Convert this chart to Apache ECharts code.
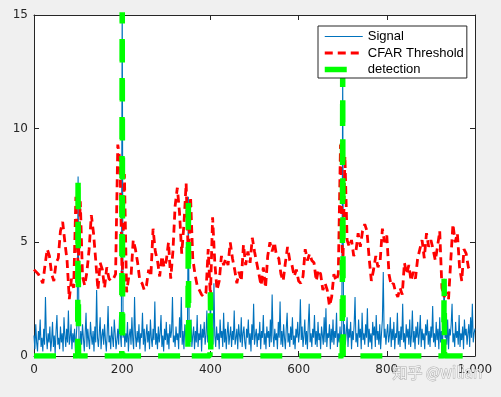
<!DOCTYPE html>
<html>
<head>
<meta charset="utf-8">
<script src="https://cdn.jsdelivr.net/npm/echarts@6/dist/echarts.min.js"></script>
<style>
html,body{margin:0;padding:0;background:#f0f0f0;}
#c{width:501px;height:397px;}
</style>
</head>
<body>
<div id="c"></div>
<script>
// ---- data ----
const xTicks = [0, 200, 400, 600, 800, 1000];
const yTicks = [0, 5, 10, 15];
const seriesNames = ['Signal', 'CFAR Threshold', 'detection'];

// Signal, sampled every 2 units from x = 0 to 1000
const sigStep = 2;
const sigVals = [
 0.9,0.3,1.4,0.6,0.2,1.1,0.7,1.6,0.4,0.8,0.2,1.2,0.5,2.6,0.9,0.3,1.0,0.6,1.3,0.2,
 0.7,1.5,0.4,0.9,0.1,1.1,1.8,0.5,0.8,0.3,1.3,0.6,1.0,0.2,1.7,0.9,0.4,1.2,0.6,2.0,
 0.5,0.8,1.4,0.3,1.0,0.6,1.2,0.2,0.9,1.6,7.9,0.7,0.3,1.1,0.5,1.4,0.8,0.2,1.0,1.9,
 0.4,1.2,0.7,0.3,1.5,0.9,0.5,1.1,0.2,1.3,0.6,2.9,0.8,0.4,1.0,1.7,0.3,0.9,1.2,0.5,
 1.4,0.7,0.2,1.0,2.2,0.6,0.9,0.3,1.3,0.8,0.4,1.6,1.0,0.3,0.7,1.2,0.5,1.8,0.9,0.4,
 16.0,0.8,1.3,0.4,1.0,0.6,1.5,0.2,0.9,1.2,0.5,1.7,0.7,0.3,2.6,0.9,0.4,1.1,0.6,1.4,
 0.3,1.0,0.8,1.9,0.5,1.2,0.2,0.9,1.4,0.6,1.1,0.3,1.6,0.8,0.4,1.2,0.7,2.4,0.5,1.0,
 0.3,1.3,0.6,1.0,1.8,0.4,0.9,0.2,1.2,0.7,1.5,0.5,1.0,0.3,1.4,0.8,1.1,2.6,0.6,0.9,
 0.4,1.3,0.7,1.0,0.3,1.7,0.8,2.6,0.5,1.1,0.3,1.4,0.9,0.6,1.2,7.0,0.5,1.0,1.6,0.4,
 0.9,1.3,0.3,1.1,0.6,1.8,0.4,1.0,0.7,1.4,0.2,1.2,0.8,1.5,0.5,0.9,2.0,0.6,1.1,0.4,
 2.8,0.7,1.2,0.5,3.2,0.9,0.4,1.3,0.7,1.0,0.3,1.6,0.8,1.1,0.4,1.9,0.6,1.2,0.3,1.0,
 1.5,0.5,0.9,1.3,0.4,1.1,0.7,2.0,0.5,0.8,1.2,0.3,1.4,0.9,0.6,1.7,0.4,1.0,1.3,0.6,
 0.3,1.2,0.8,1.6,0.5,1.0,0.2,1.4,0.7,2.3,0.5,0.9,1.2,0.4,1.0,0.7,1.5,0.3,1.1,0.8,
 1.8,0.5,1.0,0.3,1.3,0.8,1.1,0.4,1.6,0.6,2.7,0.9,0.4,1.2,0.7,1.0,0.3,1.5,0.8,2.4,
 0.5,1.1,0.4,1.4,0.8,0.3,1.2,1.9,0.6,1.0,0.4,1.3,0.7,1.7,0.5,0.9,0.3,1.2,0.8,1.5,
 0.6,1.0,2.5,0.7,1.3,0.4,0.9,1.6,0.5,1.1,0.3,1.4,2.3,0.6,1.0,0.4,1.2,0.8,1.8,0.5,
 1.1,0.4,1.5,0.7,1.0,0.3,1.3,0.9,0.5,1.7,0.6,2.1,0.4,1.0,0.8,1.4,0.3,1.2,0.6,1.6,
 0.5,1.1,0.8,1.9,0.4,1.0,0.6,1.3,0.3,1.2,12.4,0.7,1.4,0.5,1.0,1.7,0.4,1.2,0.8,1.5,
 0.3,1.1,0.7,1.4,2.6,0.6,1.0,0.4,1.6,0.8,1.2,0.3,1.9,0.7,1.0,0.5,1.4,0.8,2.1,0.4,
 1.2,0.6,1.0,0.3,1.5,0.9,1.3,0.4,1.8,0.7,1.1,0.5,1.4,0.3,1.0,1.6,3.7,0.8,1.2,0.5,
 1.0,1.4,0.6,0.9,1.7,0.4,1.2,0.7,1.5,0.3,1.0,0.8,1.9,0.5,1.1,0.4,1.3,0.7,2.3,0.6,
 1.0,0.3,1.4,0.8,1.2,0.5,1.6,0.4,0.9,2.0,0.6,1.1,0.3,1.3,0.8,1.5,0.5,1.0,1.8,0.4,
 1.2,0.7,1.0,0.3,1.4,0.9,1.6,0.5,1.1,0.4,1.3,0.8,2.2,0.6,1.0,0.4,1.5,0.7,1.2,0.3,
 1.7,0.6,1.1,0.4,1.3,3.4,0.8,1.0,0.5,1.6,0.3,1.2,0.9,1.4,2.3,0.6,1.0,0.4,1.5,0.8,
 1.1,0.5,1.8,0.4,1.0,0.7,1.3,0.3,1.6,0.9,1.2,0.5,1.0,1.4,0.4,1.7,0.8,2.3,0.6,1.0,
 1.2
];

// CFAR threshold, sampled every 5 units from x = 0 to 990
const thrStep = 5;
const thrVals = [
 3.8,3.7,3.6,3.4,3.2,4.0,4.7,4.4,3.6,3.3,4.1,4.3,5.5,5.9,5.0,4.2,2.5,3.4,3.0,7.0,
 3.8,6.8,3.5,3.1,3.7,4.7,6.2,5.4,4.2,2.9,4.1,3.8,3.0,3.9,3.4,3.3,3.4,3.6,9.3,8.6,
 3.2,8.0,2.8,3.5,3.5,5.1,4.7,4.1,3.3,3.2,2.9,3.1,3.8,3.5,5.6,4.6,4.2,3.5,4.4,3.9,
 4.2,5.0,3.4,4.6,6.6,7.4,6.3,4.5,5.8,7.6,4.2,7.0,4.3,3.6,3.1,2.9,2.7,2.6,2.8,4.7,
 2.6,6.1,4.1,2.9,3.3,4.4,4.0,4.3,4.0,5.0,4.3,3.8,3.2,3.7,3.3,4.9,4.0,4.6,4.1,5.2,
 4.6,4.1,3.6,3.1,3.9,3.0,4.4,5.0,4.6,5.0,4.4,4.3,3.6,3.3,4.1,4.8,4.2,4.0,3.5,3.8,
 3.3,3.2,3.5,4.7,4.2,4.5,4.2,4.1,3.3,3.8,3.6,2.9,3.2,2.9,2.2,2.6,3.6,3.3,3.6,9.3,
 3.5,8.8,5.1,4.8,5.1,4.4,4.6,5.4,4.8,5.5,5.8,5.5,4.3,3.3,3.8,4.4,3.9,4.2,5.6,5.0,
 5.3,3.6,3.1,3.2,2.8,2.6,3.0,2.7,4.1,3.6,4.0,3.3,3.7,3.4,4.3,4.7,5.1,4.3,5.4,4.8,
 5.1,4.7,4.2,4.8,5.5,3.0,2.6,2.8,2.5,4.2,5.8,5.0,5.4,3.9,3.3,4.7,4.5,3.9,3.7
];

// detection: zero except where the signal exceeds the threshold
const detX = [0, 99, 100, 101, 199, 200, 201, 349, 350, 351, 399, 400, 401, 699, 700, 701, 929, 930, 931, 1000];
const detY = [0, 0, 7.9, 0, 0, 16.0, 0, 0, 7.0, 0, 0, 2.8, 0, 0, 12.4, 0, 0, 3.4, 0, 0];

// ---- build ----
const sigData = sigVals.map((v, i) => [i * sigStep, v]);
const thrData = thrVals.map((v, i) => [i * thrStep, v]);
const detData = detX.map((x, i) => [x, detY[i]]);

const axisColor = '#262626';
const chart = echarts.init(document.getElementById('c'), null, {renderer: 'canvas'});

function axisBase(ticks, extra) {
  return Object.assign({
    type: 'value', min: ticks[0], max: ticks[ticks.length - 1], interval: ticks[1] - ticks[0],
    axisLine: {show: true, onZero: false, lineStyle: {color: axisColor, width: 1}},
    axisTick: {show: true, inside: true, length: 5, lineStyle: {color: axisColor, width: 1}},
    splitLine: {show: false}
  }, extra);
}

chart.setOption({
  backgroundColor: '#f0f0f0',
  animation: false,
  grid: {left: 34, right: 26, top: 15, bottom: 41, show: true, backgroundColor: '#ffffff', borderWidth: 0},
  xAxis: [
    axisBase(xTicks, {position: 'bottom',
      axisLabel: {show: true, color: axisColor, fontFamily: 'DejaVu Sans', fontSize: 12, margin: 8}}),
    axisBase(xTicks, {position: 'top', axisLabel: {show: false}})
  ],
  yAxis: [
    axisBase(yTicks, {position: 'left',
      axisLabel: {show: true, color: axisColor, fontFamily: 'DejaVu Sans', fontSize: 12, margin: 6}}),
    axisBase(yTicks, {position: 'right', axisLabel: {show: false}})
  ],
  legend: {
    orient: 'vertical', left: 318, top: 26,
    padding: [4, 3, 2, 4],
    itemWidth: 38, itemHeight: 14, itemGap: 3.5,
    backgroundColor: '#ffffff', borderColor: axisColor, borderWidth: 1, borderRadius: 0,
    itemStyle: {opacity: 0},
    lineStyle: {width: 'inherit'},
    textStyle: {fontFamily: 'Liberation Sans', fontSize: 13, color: '#000000'},
    data: seriesNames
  },
  series: [
    {name: seriesNames[0], type: 'line', data: sigData, symbol: 'none', clip: true,
     lineStyle: {color: '#0072bd', width: 1.1}, itemStyle: {color: '#0072bd'}},
    {name: seriesNames[1], type: 'line', data: thrData, symbol: 'none', clip: true,
     lineStyle: {color: '#ff0000', width: 2.8, type: [8, 5]}, itemStyle: {color: '#ff0000'}},
    {name: seriesNames[2], type: 'line', data: detData, symbol: 'none', clip: true,
     lineStyle: {color: '#00ff00', width: 5.5, type: [22, 17]}, itemStyle: {color: '#00ff00'}}
  ],
  graphic: [{
    type: 'text', left: 392, top: 364, z: 100,
    style: {text: '知乎 @wilian', font: '15px "Noto Sans CJK SC"',
            fill: 'rgba(255,255,255,0.8)', stroke: 'rgba(120,120,120,0.55)', lineWidth: 1}
  }]
});
</script>
</body>
</html>
